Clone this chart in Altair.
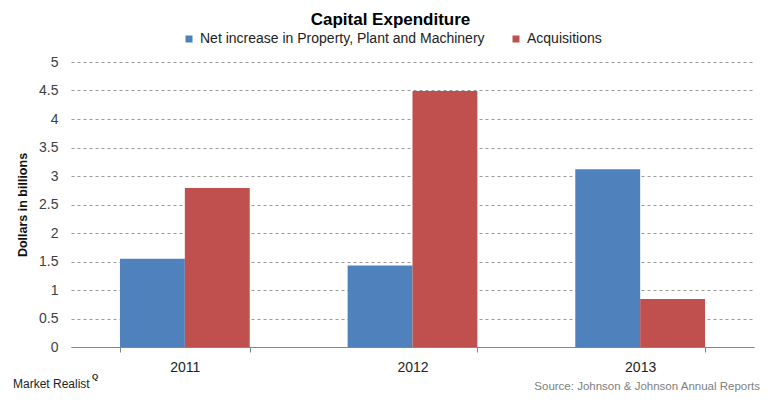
import altair as alt
import pandas as pd

years = ["2011", "2012", "2013"]
series = ["Net increase in Property, Plant and Machinery", "Acquisitions"]
ppm = [1.55, 1.43, 3.12]
acq = [2.79, 4.49, 0.84]
colors = ["#4F81BD", "#C0504D"]
y_ticks = [0, 0.5, 1, 1.5, 2, 2.5, 3, 3.5, 4, 4.5, 5]
chart_title = "Capital Expenditure"
y_title = "Dollars in billions"
source_text = "Source: Johnson & Johnson Annual Reports"
brand_text = "Market Realist"
brand_icon = "Q"

FONT = "Liberation Sans"
W, H = 683, 285

rows = []
for i, yr in enumerate(years):
    rows.append({"year": yr, "series": series[0], "value": ppm[i]})
    rows.append({"year": yr, "series": series[1], "value": acq[i]})
df = pd.DataFrame(rows)

bars = alt.Chart(df).mark_bar().encode(
    x=alt.X(
        "year:N",
        title=None,
        sort=years,
        scale=alt.Scale(paddingInner=0.43, paddingOuter=0.215),
        axis=alt.Axis(
            labelAngle=0,
            tickBand="extent",
            tickSize=5,
            tickColor="#868686",
            domainColor="#868686",
            labelFontSize=14,
            labelFont=FONT,
            labelColor="#222222",
            labelPadding=8,
            grid=False,
        ),
    ),
    xOffset=alt.XOffset("series:N", sort=series,
                        scale=alt.Scale(paddingInner=0, paddingOuter=0)),
    y=alt.Y(
        "value:Q",
        title=y_title,
        scale=alt.Scale(domain=[0, 5], nice=False),
        axis=alt.Axis(
            values=y_ticks,
            format="~g",
            domain=False,
            ticks=False,
            labelFontSize=14,
            labelFont=FONT,
            labelColor="#404040",
            labelPadding=13,
            grid=True,
            gridDash=[3, 3],
            gridColor="#9a9a9a",
            titleFont=FONT,
            titleFontSize=12.5,
            titleFontWeight="bold",
            titleColor="#111111",
            titlePadding=9,
        ),
    ),
    color=alt.Color(
        "series:N",
        sort=series,
        scale=alt.Scale(domain=series, range=colors),
        legend=alt.Legend(
            title=None,
            orient="none",
            direction="horizontal",
            legendX=111,
            legendY=-30,
            symbolType="square",
            symbolSize=49,
            symbolStrokeWidth=0,
            labelFont=FONT,
            labelFontSize=14,
            labelColor="#222222",
            labelOffset=4,
            labelLimit=500,
            columnPadding=24,
        ),
    ),
)

src = alt.Chart(pd.DataFrame({"t": [source_text]})).mark_text(
    align="right", baseline="bottom", font=FONT, fontSize=11.5, color="#808080"
).encode(x=alt.value(689), y=alt.value(330), text="t:N")

brand = alt.Chart(pd.DataFrame({"t": [brand_text]})).mark_text(
    align="left", baseline="middle", font=FONT, fontSize=12, color="#222222"
).encode(x=alt.value(-58), y=alt.value(322), text="t:N")

icon = alt.Chart(pd.DataFrame({"t": [brand_icon]})).mark_text(
    align="left", baseline="middle", font=FONT, fontSize=8, fontWeight="bold",
    color="#222222"
).encode(x=alt.value(21), y=alt.value(315), text="t:N")

chart = alt.layer(bars, src, brand, icon).properties(
    width=W,
    height=H,
    title=alt.TitleParams(
        chart_title,
        anchor="middle",
        frame="group",
        font=FONT,
        fontSize=17,
        fontWeight="bold",
        color="#000000",
        dx=-22,
        offset=3,
    ),
    autosize=alt.AutoSizeParams(type="none"),
    padding={"left": 63, "top": 54, "right": 6, "bottom": 46},
).configure_view(stroke=None)

chart.save("out.html", embed_options={"renderer": "svg", "actions": False})
